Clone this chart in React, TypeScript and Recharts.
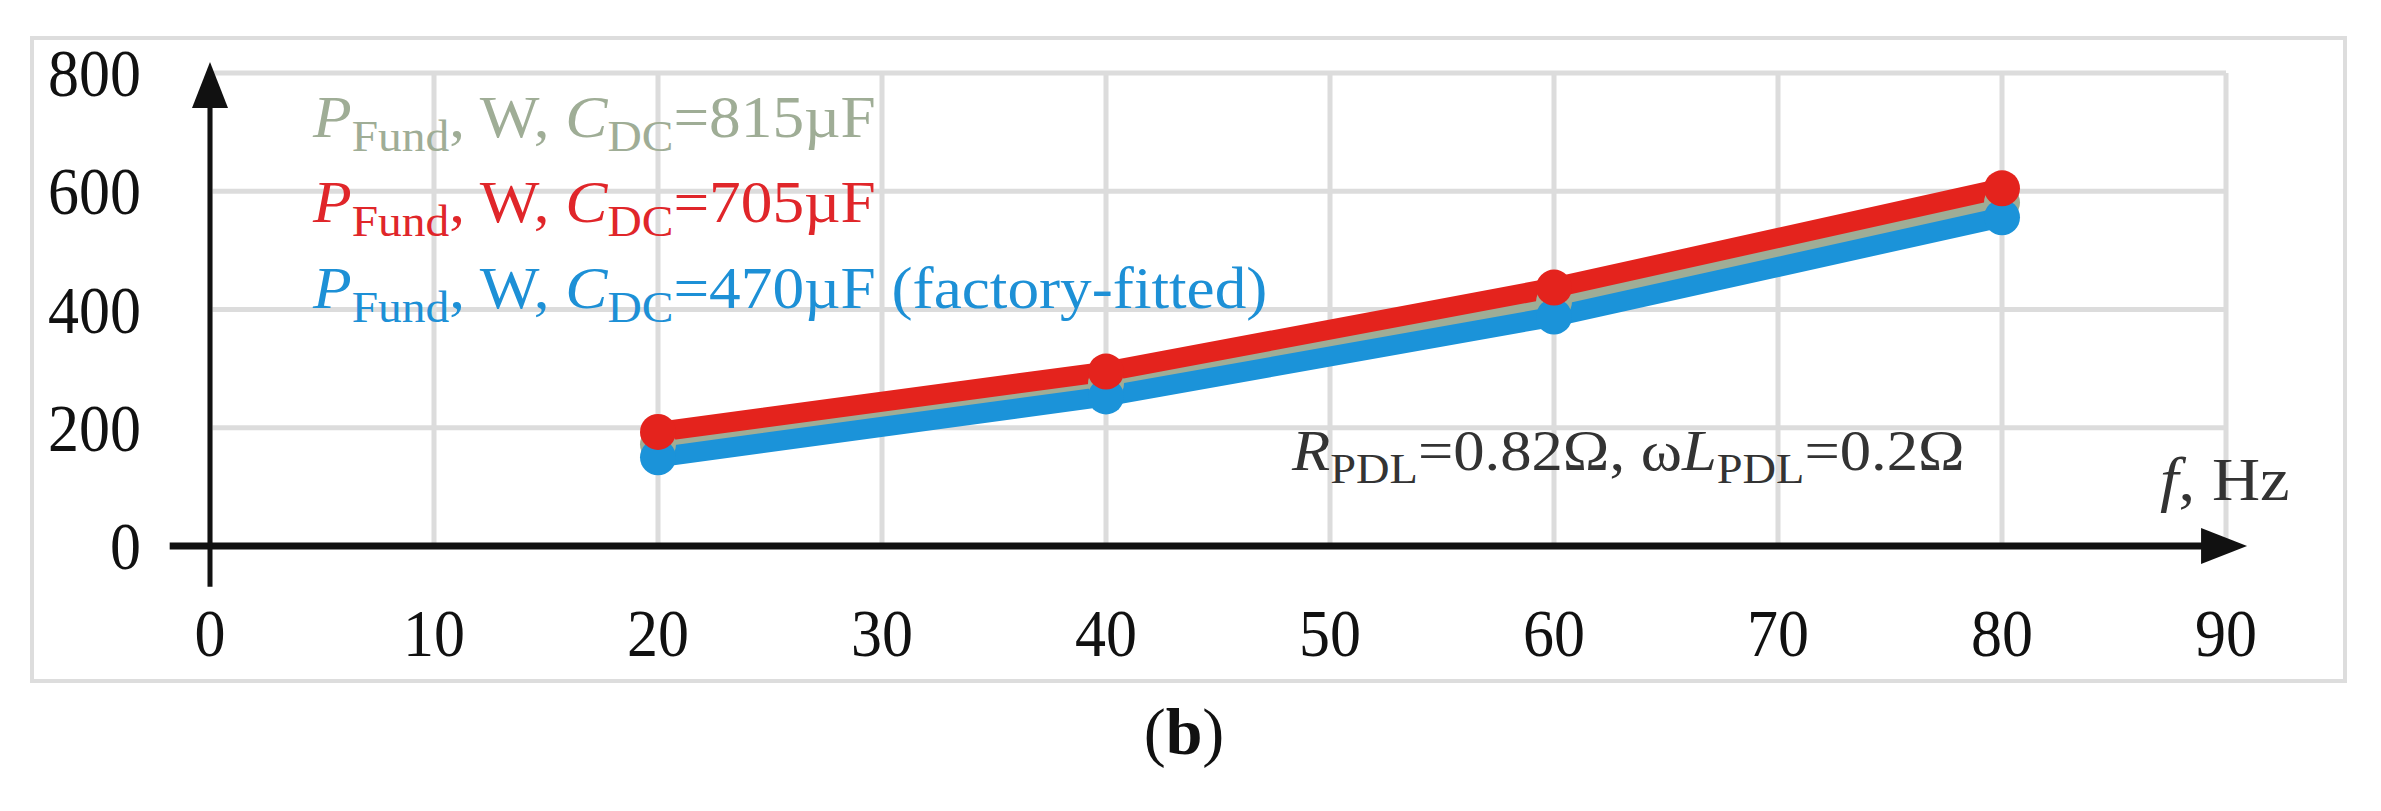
import React from "react";
import {
  LineChart,
  Line,
  XAxis,
  YAxis,
  CartesianGrid,
  ReferenceLine,
  ReferenceDot,
} from "recharts";

// frequency, Hz
const freqs = [20, 40, 60, 80];
// P_Fund, W for each DC-link capacitance
const p815 = [172, 275, 413, 581];
const p705 = [193, 295, 437, 605];
const p470 = [150, 253, 388, 556];

const xTicks = [0, 10, 20, 30, 40, 50, 60, 70, 80, 90];
const yTicks = [0, 200, 400, 600, 800];

const data = freqs.map((f, i) => ({
  f,
  c815: p815[i],
  c705: p705[i],
  c470: p470[i],
}));

const FONT = "'Liberation Serif', 'Times New Roman', serif";
const GREEN = "#9fad96";
const RED = "#e4231d";
const BLUE = "#1b93d9";

const XTick = (props: any) => {
  const { x, y, payload } = props;
  return (
    <text
      transform={`translate(${x},${y + 110}) scale(1,1.1)`}
      textAnchor="middle"
      fontSize={62}
      fontFamily={FONT}
      fill="#111"
    >
      {payload.value}
    </text>
  );
};

const YTick = (props: any) => {
  const { x, y, payload } = props;
  return (
    <text
      transform={`translate(${x - 69},${y + 23}) scale(1,1.1)`}
      textAnchor="end"
      fontSize={62}
      fontFamily={FONT}
      fill="#111"
    >
      {payload.value}
    </text>
  );
};

const ArrowUp = (props: any) => {
  const { cx, cy } = props;
  return <path d={`M${cx},${cy} L${cx - 18},${cy + 46} L${cx + 18},${cy + 46} Z`} fill="#111" />;
};

const ArrowRight = (props: any) => {
  const { cx, cy } = props;
  return <path d={`M${cx},${cy} L${cx - 46},${cy - 18} L${cx - 46},${cy + 18} Z`} fill="#111" />;
};

function LegendLine({ y, color, value, extra }: { y: number; color: string; value: string; extra?: string }) {
  return (
    <text
      transform={`translate(305,${y}) scale(1.13,1.05)`}
      fontSize={56}
      fontFamily={FONT}
      fill={color}
    >
      <tspan fontStyle="italic">P</tspan>
      <tspan fontSize={42} dy={13}>Fund</tspan>
      <tspan dy={-13}>, W, </tspan>
      <tspan fontStyle="italic">C</tspan>
      <tspan fontSize={42} dy={13}>DC</tspan>
      <tspan dy={-13}>{"=" + value}</tspan>
      {extra ? <tspan>{" " + extra}</tspan> : null}
    </text>
  );
}

export default function App() {
  return (
    <div style={{ position: "relative", width: 2365, height: 795 }}>
      <div
        style={{
          position: "absolute",
          left: 22,
          top: 28,
          width: 2317,
          height: 647,
          border: "4px solid #dddddd",
          boxSizing: "border-box",
        }}
      />
      <div style={{ position: "absolute", left: 0, top: 0 }}>
        <LineChart
          width={2365}
          height={795}
          data={data}
          margin={{ top: 65, right: 147, left: 52, bottom: 137 }}
        >
          <CartesianGrid stroke="#dcdcdc" strokeWidth={5} />
          <XAxis
            dataKey="f"
            type="number"
            domain={[0, 90]}
            ticks={xTicks}
            height={120}
            axisLine={false}
            tickLine={false}
            tickSize={0}
            tickMargin={0}
            tick={<XTick />}
            interval={0}
          />
          <YAxis
            type="number"
            domain={[0, 800]}
            ticks={yTicks}
            width={150}
            axisLine={false}
            tickLine={false}
            tickSize={0}
            tickMargin={0}
            tick={<YTick />}
            interval={0}
          />

          {/* axes with arrows */}
          <ReferenceLine
            segment={[{ x: -1.8, y: 0 }, { x: 89.2, y: 0 }]}
            stroke="#111"
            strokeWidth={7}
            ifOverflow="visible"
          />
          <ReferenceLine
            segment={[{ x: 0, y: -69 }, { x: 0, y: 745 }]}
            stroke="#111"
            strokeWidth={5}
            ifOverflow="visible"
          />
          <ReferenceDot x={90.94} y={0} ifOverflow="visible" shape={ArrowRight} />
          <ReferenceDot x={0} y={818.6} ifOverflow="visible" shape={ArrowUp} />

          <Line
            dataKey="c815"
            stroke={GREEN}
            strokeWidth={19}
            dot={{ r: 18, fill: GREEN, stroke: "none" }}
            activeDot={false}
            isAnimationActive={false}
          />
          <Line
            dataKey="c470"
            stroke={BLUE}
            strokeWidth={20}
            dot={{ r: 18, fill: BLUE, stroke: "none" }}
            activeDot={false}
            isAnimationActive={false}
          />
          <Line
            dataKey="c705"
            stroke={RED}
            strokeWidth={20}
            dot={{ r: 18, fill: RED, stroke: "none" }}
            activeDot={false}
            isAnimationActive={false}
          />

          <LegendLine y={129} color={GREEN} value="815µF" />
          <LegendLine y={214} color="#e0262a" value="705µF" />
          <LegendLine y={300} color="#1d90d6" value="470µF" extra="(factory-fitted)" />

          <text
            transform="translate(1284,462) scale(1.16,1.05)"
            fontSize={54}
            fontFamily={FONT}
            fill="#333"
          >
            <tspan fontStyle="italic">R</tspan>
            <tspan fontSize={40} dy={12}>PDL</tspan>
            <tspan dy={-12}>=0.82Ω, ω</tspan>
            <tspan fontStyle="italic">L</tspan>
            <tspan fontSize={40} dy={12}>PDL</tspan>
            <tspan dy={-12}>=0.2Ω</tspan>
          </text>

          <text
            transform="translate(2152,492) scale(1.15,1.05)"
            fontSize={58}
            fontFamily={FONT}
            fill="#333"
          >
            <tspan fontStyle="italic">f</tspan>
            <tspan>, Hz</tspan>
          </text>

          <text x={1176} y={746} textAnchor="middle" fontSize={66} fontFamily={FONT} fill="#111">
            <tspan>(</tspan>
            <tspan fontWeight="bold">b</tspan>
            <tspan>)</tspan>
          </text>
        </LineChart>
      </div>
    </div>
  );
}
